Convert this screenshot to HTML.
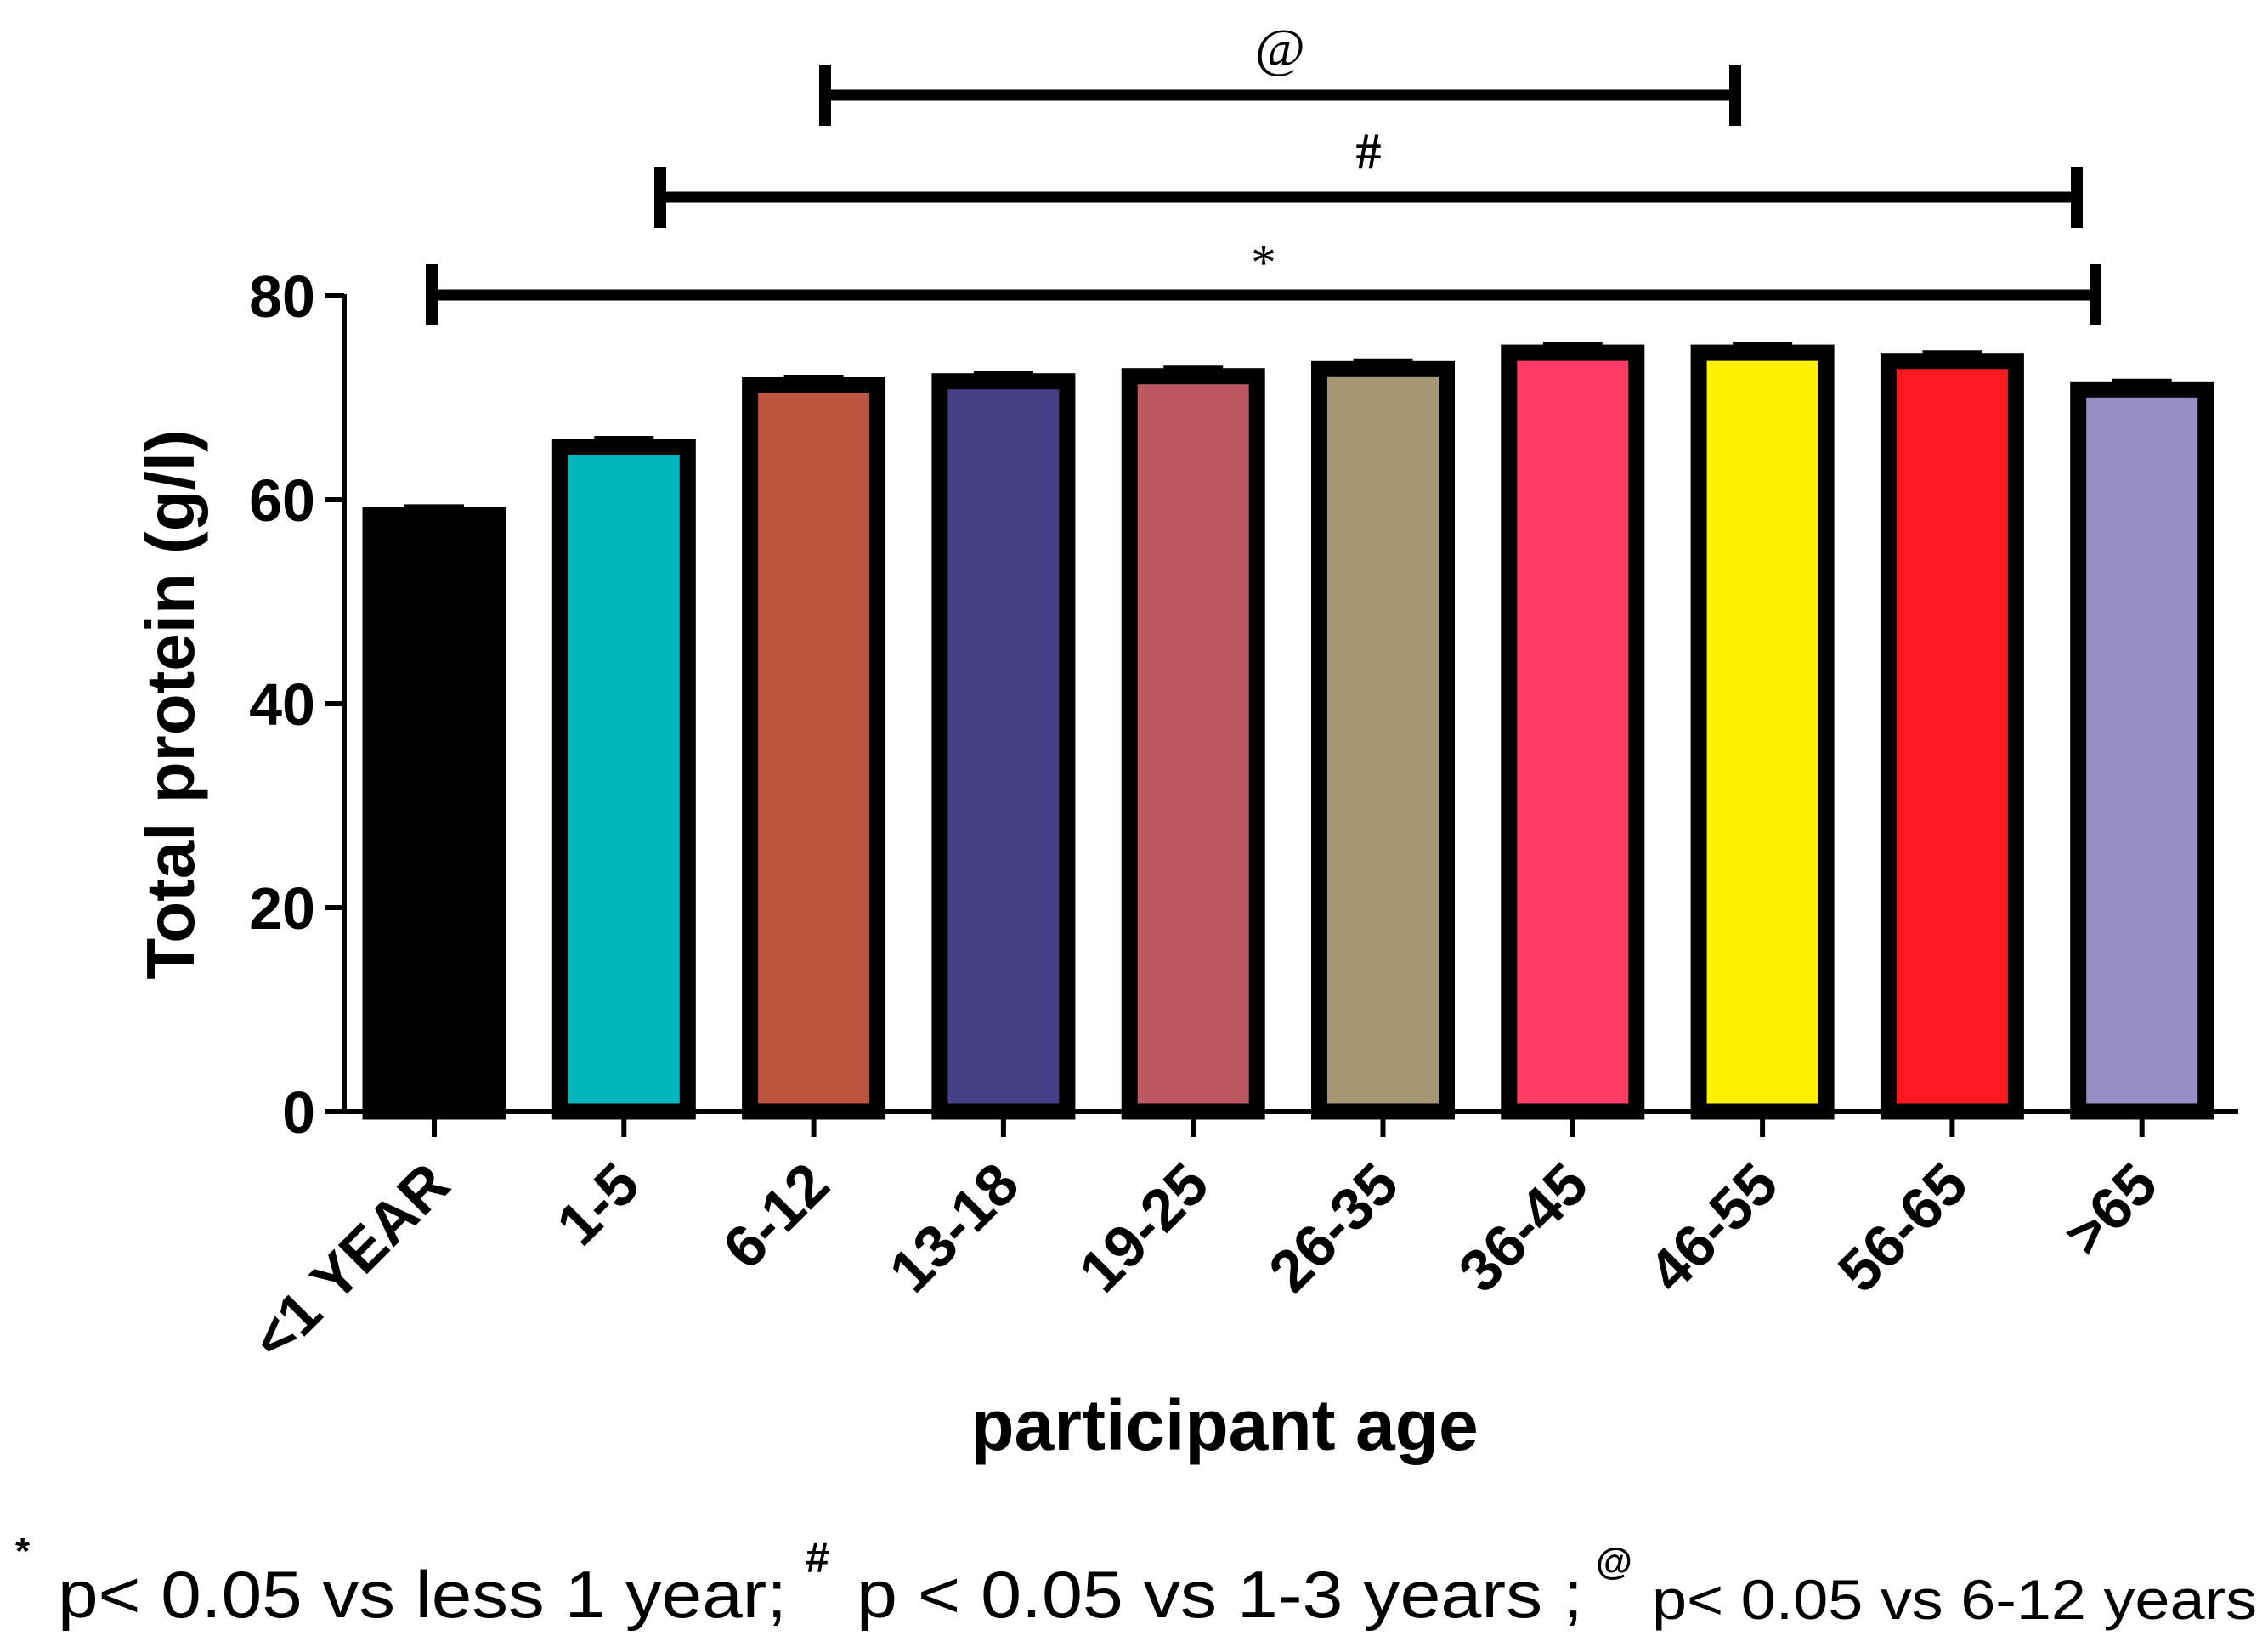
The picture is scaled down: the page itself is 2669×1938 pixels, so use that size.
<!DOCTYPE html>
<html><head><meta charset="utf-8"><style>
html,body{margin:0;padding:0;background:#fff;}
svg{display:block;font-family:"Liberation Sans",Arial,sans-serif;}
</style></head><body>
<svg id="chart" width="2669" height="1938" viewBox="0 0 2669 1938" xmlns="http://www.w3.org/2000/svg">
<g id="bars"></g>
<g id="axes"></g>
<g id="sig"></g>
<text transform="translate(228,829) rotate(-90)" text-anchor="middle" font-size="80" font-weight="bold">Total protein (g/l)</text>
<text x="1441" y="1706" text-anchor="middle" font-size="84" font-weight="bold">participant age</text>
<g>
<text x="18" y="1840" font-size="44" font-weight="bold">*</text>
<text x="68" y="1903" font-size="78" textLength="858" lengthAdjust="spacingAndGlyphs">p&lt; 0.05 vs less 1 year;</text>
<text x="948" y="1850" font-size="50" font-weight="bold">#</text>
<text x="1008" y="1903" font-size="78" textLength="855" lengthAdjust="spacingAndGlyphs">p &lt; 0.05 vs 1-3 years ;</text>
<text x="1878" y="1852" font-size="44" font-weight="bold">@</text>
<text x="1944" y="1905" font-size="66" textLength="712" lengthAdjust="spacingAndGlyphs">p&lt; 0.05 vs 6-12 years</text>
</g>
</svg>
<script>
const categories = ["<1 YEAR","1-5","6-12","13-18","19-25","26-35","36-45","46-55","56-65",">65"];
const values = [59.3,66.0,72.0,72.4,72.9,73.6,75.2,75.2,74.4,71.6];
const colors = ["#000000","#00b6bc","#bd5540","#463f86","#bc5861","#a59674","#ff3c64","#fff200","#ff1a22","#978ec6"];
const yTicks = [0,20,40,60,80];
const bracketLabels = ["@","#","*"];

const NS="http://www.w3.org/2000/svg";
const X0=405, X1=2634, Y0=1308, Y80=348;
const yScale=v=>Y0-(v/80)*(Y0-Y80);
const xCenter=i=>511+i*223.3;
const barW=150, bw=19;
const bracketGeom=[{x1:971,x2:2042,y:112},{x1:777,x2:2444,y:232},{x1:508,x2:2466,y:347}];
function mk(tag,attrs,parent){const e=document.createElementNS(NS,tag);for(const k in attrs)e.setAttribute(k,attrs[k]);parent.appendChild(e);return e;}
const gb=document.getElementById('bars'), ga=document.getElementById('axes'), gs=document.getElementById('sig');
values.forEach((v,i)=>{
  const cx=xCenter(i), top=yScale(v);
  const r=mk('rect',{x:cx-barW/2,y:top+bw/2,width:barW,height:Y0-top-bw/2,fill:colors[i],stroke:'#000','stroke-width':bw},gb);
  
  
  const eb=mk('line',{x1:cx-35,x2:cx+35,y1:top-1,y2:top-1,stroke:'#000','stroke-width':4},gb);
  
  
});
const ya=mk('line',{x1:X0,x2:X0,y1:Y80-2,y2:Y0+3,stroke:'#000','stroke-width':6},ga);


const xa=mk('line',{x1:X0-20,x2:X1,y1:Y0,y2:Y0,stroke:'#000','stroke-width':6},ga);


yTicks.forEach(t=>{
  const y=yScale(t);
  mk('line',{x1:X0-22,x2:X0,y1:y,y2:y,stroke:'#000','stroke-width':6},ga);
  const tx=mk('text',{x:X0-34,y:y+25,'text-anchor':'end','font-size':70,'font-weight':'bold'},ga);
  tx.textContent=t;
  
  
});
categories.forEach((c,i)=>{
  const cx=xCenter(i);
  mk('line',{x1:cx,x2:cx,y1:Y0,y2:Y0+30,stroke:'#000','stroke-width':6},ga);
  const tx=mk('text',{transform:`translate(${cx+22},${Y0+90}) rotate(-45)`,'text-anchor':'end','font-size':70,'font-weight':'bold'},ga);
  tx.textContent=c;
  
  
});
bracketLabels.forEach((lab,k)=>{
  const b=bracketGeom[k];
  const g=mk('g',{},gs);
  
  
  mk('line',{x1:b.x1,x2:b.x2,y1:b.y,y2:b.y,stroke:'#000','stroke-width':13},g);
  mk('line',{x1:b.x1,x2:b.x1,y1:b.y-36,y2:b.y+36,stroke:'#000','stroke-width':14},g);
  mk('line',{x1:b.x2,x2:b.x2,y1:b.y-36,y2:b.y+36,stroke:'#000','stroke-width':14},g);
  const t=mk('text',{x:(b.x1+b.x2)/2,y:b.y-(lab==='*'?18:34),'text-anchor':'middle','font-size':lab==='@'?64:60,'font-weight':lab==='#'?'bold':'normal','font-family':'Liberation Serif, serif'},g);
  t.textContent=lab;
});
</script>
</body></html>
